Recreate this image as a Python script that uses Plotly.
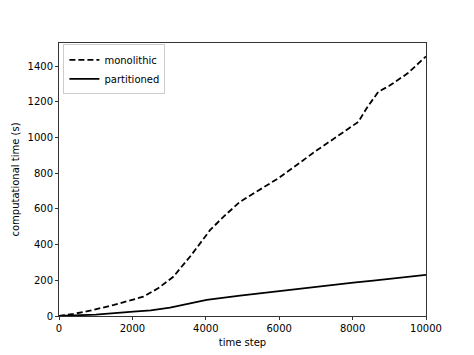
import plotly.graph_objects as go

mono_x = [0, 400, 845, 1500, 2297, 2700, 3115, 3600, 4114, 4500, 4932, 5500, 6000, 7000, 8000, 8156, 8400, 8700, 9000, 9500, 10000]
mono_y = [0, 12, 30, 62, 108, 155, 220, 340, 481, 560, 640, 710, 775, 925, 1070, 1088, 1170, 1256, 1290, 1360, 1455]

part_x = [0, 500, 1000, 2025, 2500, 3025, 3500, 4024, 4932, 5977, 7000, 8020, 8565, 9300, 10000]
part_y = [0, 3, 8, 24, 32, 47, 68, 90, 114, 140, 163, 187, 198, 215, 230]

x_ticks = [0, 2000, 4000, 6000, 8000, 10000]
x_labels = ["0", "2000", "4000", "6000", "8000", "10000"]
y_ticks = [0, 200, 400, 600, 800, 1000, 1200, 1400]
y_labels = ["0", "200", "400", "600", "800", "1000", "1200", "1400"]

fig = go.Figure()
fig.add_trace(go.Scatter(x=mono_x, y=mono_y, mode="lines", name="monolithic",
                         line=dict(color="black", width=1.8, dash="6px,3px")))
fig.add_trace(go.Scatter(x=part_x, y=part_y, mode="lines", name="partitioned",
                         line=dict(color="black", width=1.8)))

axis_common = dict(showgrid=False, zeroline=False, showline=True, linecolor="#333",
                   linewidth=1, mirror=True, ticks="outside", ticklen=3, tickcolor="#333",
                   automargin=False,
                   tickfont=dict(family="DejaVu Sans", size=10, color="black"))
fig.update_xaxes(range=[0, 10000], tickvals=x_ticks, ticktext=x_labels,
                 title=dict(text="time step", standoff=5,
                            font=dict(family="DejaVu Sans", size=10, color="black")), **axis_common)
fig.update_yaxes(range=[0, 1530], tickvals=y_ticks, ticktext=y_labels,
                 title=dict(text="computational time (s)", standoff=6,
                            font=dict(family="DejaVu Sans", size=10, color="black")), **axis_common)

fig.update_layout(width=474, height=355, margin=dict(l=59, r=48, t=43, b=39),
                  plot_bgcolor="white", paper_bgcolor="white",
                  font=dict(family="DejaVu Sans", size=10, color="black"),
                  legend=dict(x=0.012, y=0.995, xanchor="left", yanchor="top",
                              bordercolor="#ccc", borderwidth=1, bgcolor="rgba(255,255,255,0.8)",
                              font=dict(family="DejaVu Sans", size=10), tracegroupgap=0,
                              itemwidth=30))
fig.write_html("out.html")
